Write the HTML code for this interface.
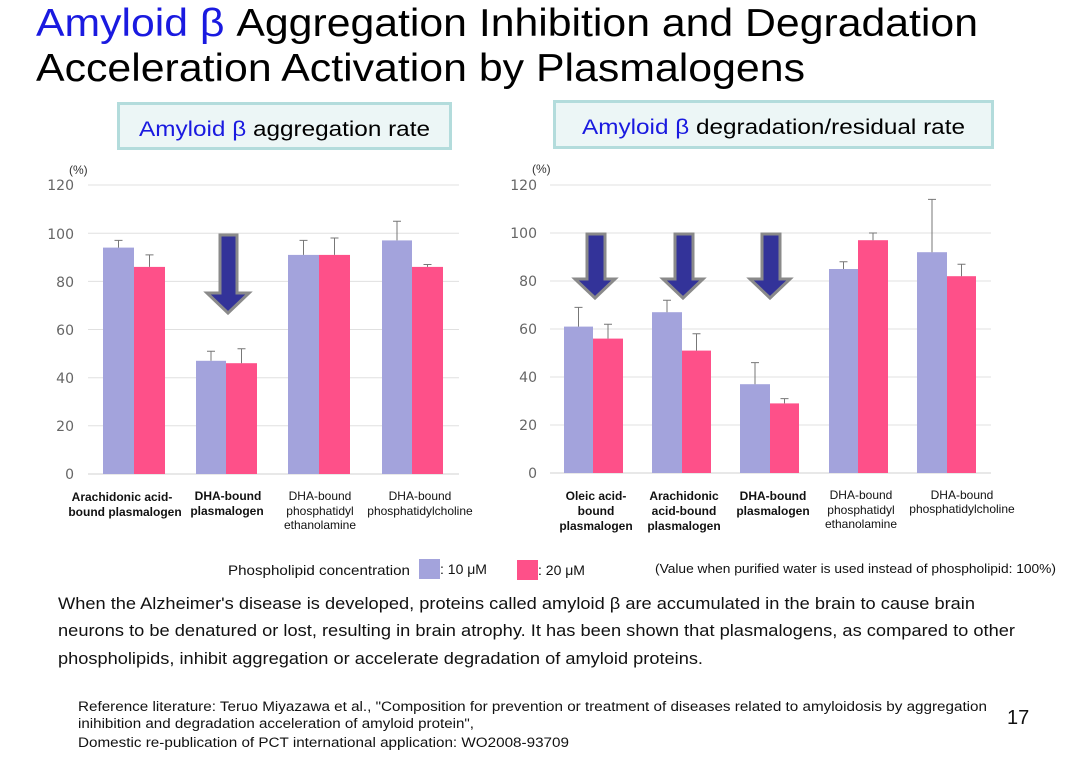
<!DOCTYPE html>
<html><head><meta charset="utf-8"><style>
body{margin:0;background:#fff;width:1090px;height:754px;overflow:hidden;font-family:"Liberation Sans",sans-serif}
</style></head><body>
<svg width="1090" height="754" xmlns="http://www.w3.org/2000/svg" font-family="Liberation Sans, sans-serif">
<text x="36" y="36" font-size="39" fill="#000" textLength="942" lengthAdjust="spacingAndGlyphs"><tspan fill="#1a1ae0">Amyloid β</tspan> Aggregation Inhibition and Degradation</text>
<text x="36" y="81" font-size="39" fill="#000" textLength="769" lengthAdjust="spacingAndGlyphs">Acceleration Activation by Plasmalogens</text>
<rect x="118.5" y="103.5" width="332" height="45" fill="#ecf6f6" stroke="#b3dcdc" stroke-width="3"/>
<text x="139" y="136" font-size="21" textLength="291" lengthAdjust="spacingAndGlyphs"><tspan fill="#1a1ae0">Amyloid β</tspan> aggregation rate</text>
<rect x="554.5" y="101.5" width="438" height="46" fill="#ecf6f6" stroke="#b3dcdc" stroke-width="3"/>
<text x="582" y="134" font-size="21" textLength="383" lengthAdjust="spacingAndGlyphs"><tspan fill="#1a1ae0">Amyloid β</tspan> degradation/residual rate</text>
<g stroke="#e0e0e0" stroke-width="1">
<line x1="88" x2="459" y1="474" y2="474" stroke="#d0d0d0"/><line x1="88" x2="459" y1="425.8" y2="425.8"/><line x1="88" x2="459" y1="377.7" y2="377.7"/><line x1="88" x2="459" y1="329.5" y2="329.5"/><line x1="88" x2="459" y1="281.4" y2="281.4"/><line x1="88" x2="459" y1="233.2" y2="233.2"/><line x1="88" x2="459" y1="185" y2="185"/>
<line x1="550" x2="991" y1="473" y2="473" stroke="#d0d0d0"/><line x1="550" x2="991" y1="425" y2="425"/><line x1="550" x2="991" y1="377" y2="377"/><line x1="550" x2="991" y1="329" y2="329"/><line x1="550" x2="991" y1="281" y2="281"/><line x1="550" x2="991" y1="233" y2="233"/><line x1="550" x2="991" y1="185" y2="185"/>
</g>
<g font-size="14" fill="#666" text-anchor="end" font-family="DejaVu Sans, sans-serif">
<text x="74" y="479">0</text><text x="74" y="431">20</text><text x="74" y="383">40</text><text x="74" y="335">60</text><text x="74" y="287">80</text><text x="74" y="239">100</text><text x="74" y="190">120</text>
<text x="537" y="478">0</text><text x="537" y="430">20</text><text x="537" y="382">40</text><text x="537" y="334">60</text><text x="537" y="286">80</text><text x="537" y="238">100</text><text x="537" y="190">120</text>
</g>
<text x="69" y="174" font-size="12" fill="#333">(%)</text>
<text x="532" y="173" font-size="12" fill="#333">(%)</text>
<g fill="#a3a3dc">
<rect x="103" y="247.6" width="31" height="226.4"/><rect x="196" y="360.8" width="30" height="113.2"/><rect x="288" y="254.9" width="31" height="219.1"/><rect x="382" y="240.4" width="30" height="233.6"/>
<rect x="564" y="326.6" width="29" height="146.4"/><rect x="652" y="312.2" width="30" height="160.8"/><rect x="740" y="384.2" width="30" height="88.8"/><rect x="829" y="269" width="29" height="204"/><rect x="917" y="252.2" width="30" height="220.8"/>
</g>
<g fill="#fe5089">
<rect x="134" y="266.9" width="31" height="207.1"/><rect x="226" y="363.2" width="31" height="110.8"/><rect x="319" y="254.9" width="31" height="219.1"/><rect x="412" y="266.9" width="31" height="207.1"/>
<rect x="593" y="338.6" width="30" height="134.4"/><rect x="682" y="350.6" width="29" height="122.4"/><rect x="770" y="403.4" width="29" height="69.6"/><rect x="858" y="240.2" width="30" height="232.8"/><rect x="947" y="276.2" width="29" height="196.8"/>
</g>
<g stroke="#777" stroke-width="1" fill="none">
<path d="M118.5 247.6V240.4M114.5 240.4h8"/><path d="M149.5 266.9V254.9M145.5 254.9h8"/>
<path d="M211 360.8V351.2M207 351.2h8"/><path d="M241.5 363.2V348.8M237.5 348.8h8"/>
<path d="M303.5 254.9V240.4M299.5 240.4h8"/><path d="M334.5 254.9V238M330.5 238h8"/>
<path d="M397 240.4V221.2M393 221.2h8"/><path d="M427.5 266.9V264.5M423.5 264.5h8"/>
<path d="M578.5 326.6V307.4M574.5 307.4h8"/><path d="M608 338.6V324.2M604 324.2h8"/>
<path d="M667 312.2V300.2M663 300.2h8"/><path d="M696.5 350.6V333.8M692.5 333.8h8"/>
<path d="M755 384.2V362.6M751 362.6h8"/><path d="M784.5 403.4V398.6M780.5 398.6h8"/>
<path d="M843.5 269V261.8M839.5 261.8h8"/><path d="M873 240.2V233M869 233h8"/>
<path d="M932 252.2V199.4M928 199.4h8"/><path d="M961.5 276.2V264.2M957.5 264.2h8"/>
</g>
<g fill="#333399" stroke="#8a8a8a" stroke-width="3" stroke-linejoin="miter">
<path d="M220 235h17v58h12l-21 20l-21-20h13z"/>
<path d="M587 234h18v45h10l-20 19l-20-19h12z"/>
<path d="M675 234h18v45h10l-20 19l-20-19h12z"/>
<path d="M762 234h18v45h10l-20 19l-20-19h12z"/>
</g>
<g font-size="12" fill="#111" text-anchor="middle">
<text x="122" y="501" font-weight="bold">Arachidonic acid-</text><text x="125" y="516" font-weight="bold">bound plasmalogen</text>
<text x="228" y="500" font-weight="bold">DHA-bound</text><text x="227" y="515" font-weight="bold">plasmalogen</text>
<text x="320" y="500">DHA-bound</text><text x="320" y="515">phosphatidyl</text><text x="320" y="529">ethanolamine</text>
<text x="420" y="500">DHA-bound</text><text x="420" y="515">phosphatidylcholine</text>
<text x="596" y="500" font-weight="bold">Oleic acid-</text><text x="596" y="515" font-weight="bold">bound</text><text x="596" y="530" font-weight="bold">plasmalogen</text>
<text x="684" y="500" font-weight="bold">Arachidonic</text><text x="684" y="515" font-weight="bold">acid-bound</text><text x="684" y="530" font-weight="bold">plasmalogen</text>
<text x="773" y="500" font-weight="bold">DHA-bound</text><text x="773" y="515" font-weight="bold">plasmalogen</text>
<text x="861" y="499">DHA-bound</text><text x="861" y="514">phosphatidyl</text><text x="861" y="528">ethanolamine</text>
<text x="962" y="499">DHA-bound</text><text x="962" y="513">phosphatidylcholine</text>
</g>
<text x="228" y="575" font-size="14" fill="#111" textLength="182" lengthAdjust="spacingAndGlyphs">Phospholipid concentration</text>
<rect x="419" y="559" width="21" height="20" fill="#a3a3dc"/>
<text x="440" y="574" font-size="14" fill="#111">: 10 μM</text>
<rect x="517" y="560" width="21" height="20" fill="#fe5089"/>
<text x="538" y="575" font-size="14" fill="#111">: 20 μM</text>
<text x="655" y="573" font-size="13" fill="#111" textLength="401" lengthAdjust="spacingAndGlyphs">(Value when purified water is used instead of phospholipid: 100%)</text>
<g font-size="17" fill="#111">
<text x="58" y="609" textLength="917" lengthAdjust="spacingAndGlyphs">When the Alzheimer's disease is developed, proteins called amyloid β are accumulated in the brain to cause brain</text>
<text x="58" y="636" textLength="957" lengthAdjust="spacingAndGlyphs">neurons to be denatured or lost, resulting in brain atrophy. It has been shown that plasmalogens, as compared to other</text>
<text x="58" y="664" textLength="645" lengthAdjust="spacingAndGlyphs">phospholipids, inhibit aggregation or accelerate degradation of amyloid proteins.</text>
</g>
<g font-size="13.5" fill="#111">
<text x="78" y="711" textLength="909" lengthAdjust="spacingAndGlyphs">Reference literature: Teruo Miyazawa et al., "Composition for prevention or treatment of diseases related to amyloidosis by aggregation</text>
<text x="78" y="728" textLength="396" lengthAdjust="spacingAndGlyphs">inihibition and degradation acceleration of amyloid protein",</text>
<text x="78" y="747" textLength="491" lengthAdjust="spacingAndGlyphs">Domestic re-publication of PCT international application: WO2008-93709</text>
</g>
<text x="1007" y="724" font-size="20" fill="#111">17</text>
</svg>
</body></html>
